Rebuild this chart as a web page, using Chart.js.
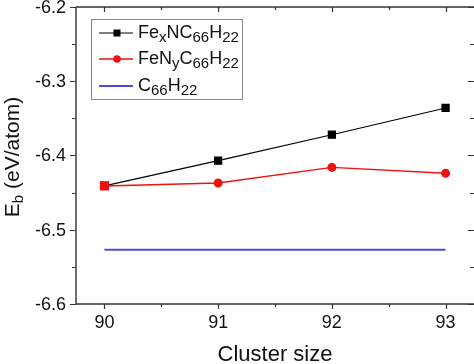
<!DOCTYPE html>
<html>
<head>
<meta charset="utf-8">
<script src="https://cdn.jsdelivr.net/npm/chart.js@4/dist/chart.umd.min.js"></script>
<style>
    html, body { margin: 0; padding: 0; background: #fff; }
    #wrap { width: 474px; height: 364px; position: relative; }
</style>
</head>
<body>
<div id="wrap"><canvas id="myChart"></canvas></div>
<script>
// cluster sizes on the x axis
let clusterSizes = [90, 91, 92, 93];
// binding energies (eV/atom)
let fexNC = [-6.441, -6.407, -6.372, -6.336];
let feNyC = [-6.441, -6.437, -6.416, -6.424];
let c66h22 = [-6.527, -6.527, -6.527, -6.527];

let xTicks = [90, 91, 92, 93];
let yTicks = [-6.6, -6.5, -6.4, -6.3, -6.2];

// legend entries: [text, subscript] pieces
let legendParts = [
    [["Fe", 0], ["x", 1], ["NC", 0], ["66", 1], ["H", 0], ["22", 1]],
    [["FeN", 0], ["y", 1], ["C", 0], ["66", 1], ["H", 0], ["22", 1]],
    [["C", 0], ["66", 1], ["H", 0], ["22", 1]]
];

const FONT = "'Liberation Sans', Arial, sans-serif";

function toPoints(vals) {
    return clusterSizes.map((x, i) => ({ x: x, y: vals[i] }));
}

function drawParts(ctx, parts, x, y, size, subSize) {
    for (let p of parts) {
        ctx.font = (p[1] ? subSize : size) + "px " + FONT;
        ctx.fillText(p[0], x, p[1] ? y + 5 : y);
        x += ctx.measureText(p[0]).width;
    }
}

const framePlugin = {
    id: 'frame',
    afterDraw(chart) {
        const ctx = chart.ctx;
        const a = chart.chartArea;
        const xs = chart.scales.x, ys = chart.scales.y;
        ctx.save();
        ctx.strokeStyle = '#333';
        ctx.lineWidth = 1.4;
        ctx.beginPath();
        ctx.moveTo(a.left, a.top); ctx.lineTo(a.right, a.top);
        ctx.moveTo(a.left, a.top); ctx.lineTo(a.left, a.bottom);
        ctx.moveTo(a.left, a.bottom); ctx.lineTo(a.right, a.bottom);
        ctx.stroke();

        ctx.lineWidth = 1.2;
        ctx.beginPath();
        // x ticks, majors and minors
        for (let v = 89.5; v <= 93.25; v += 0.5) {
            if (v < xs.min || v > xs.max) continue;
            let px = Math.round(xs.getPixelForValue(v)) + 0.5;
            let len = Number.isInteger(v) ? 5 : 3;
            ctx.moveTo(px, a.bottom); ctx.lineTo(px, a.bottom + len);
            ctx.moveTo(px, a.top); ctx.lineTo(px, a.top + len);
        }
        // y ticks
        for (let k = 0; k <= 8; k++) {
            let v = -6.6 + k * 0.05;
            let py = Math.round(ys.getPixelForValue(v)) + 0.5;
            let len = k % 2 === 0 ? 6 : 4;
            ctx.moveTo(a.left, py); ctx.lineTo(a.left - len, py);
            ctx.moveTo(a.right, py); ctx.lineTo(a.right - len, py);
        }
        ctx.stroke();

        // tick labels
        ctx.fillStyle = '#111';
        ctx.font = "18px " + FONT;
        ctx.textBaseline = 'middle';
        ctx.textAlign = 'center';
        for (let v of xTicks) {
            ctx.fillText(String(v), xs.getPixelForValue(v), 323);
        }
        ctx.textAlign = 'right';
        for (let v of yTicks) {
            ctx.fillText(v.toFixed(1), 66, ys.getPixelForValue(v) + 1);
        }

        // legend
        const lx = 91.5, ly = 19.5, lw = 151, lh = 80;
        ctx.fillStyle = '#fff';
        ctx.fillRect(lx, ly, lw, lh);
        ctx.strokeStyle = '#888';
        ctx.lineWidth = 1;
        ctx.strokeRect(lx, ly, lw, lh);
        const rows = [33, 59, 86];
        ctx.textAlign = 'left';
        chart.data.datasets.forEach((ds, i) => {
            let y = rows[i];
            ctx.strokeStyle = ds.borderColor;
            ctx.lineWidth = ds.borderWidth;
            ctx.beginPath();
            ctx.moveTo(99, y); ctx.lineTo(133, y);
            ctx.stroke();
            ctx.fillStyle = ds.borderColor;
            if (i === 0) {
                ctx.fillRect(113.5, y - 3.5, 7, 7);
            } else if (i === 1) {
                ctx.beginPath();
                ctx.arc(117, y, 3.8, 0, Math.PI * 2);
                ctx.fill();
            }
            ctx.fillStyle = '#111';
            ctx.textBaseline = 'middle';
            drawParts(ctx, legendParts[i], 138, y, 18, 15);
        });

        // axis titles
        ctx.fillStyle = '#111';
        ctx.textBaseline = 'middle';
        ctx.textAlign = 'center';
        ctx.font = "22px " + FONT;
        ctx.fillText("Cluster size", (a.left + a.right) / 2, 355);

        ctx.save();
        ctx.translate(13, 157);
        ctx.rotate(-Math.PI / 2);
        ctx.textAlign = 'left';
        let parts = [["E", 0], ["b", 1], [" (eV/atom)", 0]];
        let total = 0;
        for (let p of parts) {
            ctx.font = (p[1] ? 15 : 21) + "px " + FONT;
            total += ctx.measureText(p[0]).width;
        }
        let x = -total / 2;
        for (let p of parts) {
            ctx.font = (p[1] ? 15 : 21) + "px " + FONT;
            ctx.fillText(p[0], x, p[1] ? 6 : 0);
            x += ctx.measureText(p[0]).width;
        }
        ctx.restore();
        ctx.restore();
    }
};

window.addEventListener("DOMContentLoaded", () => {
    const ctx = document.getElementById('myChart');
    new Chart(ctx, {
        type: 'line',
        data: {
            datasets: [{
                label: 'FexNC66H22',
                data: toPoints(fexNC),
                borderColor: '#000000',
                backgroundColor: '#000000',
                borderWidth: 1.2,
                pointStyle: 'rect',
                pointRadius: 5,
                order: 2
            }, {
                label: 'FeNyC66H22',
                data: toPoints(feNyC),
                borderColor: '#f01010',
                backgroundColor: '#f01010',
                borderWidth: 1.4,
                pointStyle: (c) => c.dataIndex === 0 ? 'rect' : 'circle',
                pointRadius: (c) => c.dataIndex === 0 ? 5.5 : 3.8,
                order: 1
            }, {
                label: 'C66H22',
                data: toPoints(c66h22),
                borderColor: '#4b4bdc',
                borderWidth: 2,
                pointRadius: 0,
                order: 3
            }]
        },
        options: {
            responsive: true,
            maintainAspectRatio: false,
            animation: false,
            layout: { autoPadding: false, padding: { top: 7, right: 0, left: 0, bottom: 0 } },
            plugins: {
                legend: { display: false },
                tooltip: { enabled: false }
            },
            scales: {
                x: {
                    type: 'linear',
                    min: 89.75,
                    max: 93.25,
                    afterBuildTicks: (s) => { s.ticks = xTicks.map(v => ({ value: v })); },
                    afterFit: (s) => { s.height = 60; },
                    grid: { display: false },
                    border: { display: false },
                    ticks: { display: false }
                },
                y: {
                    min: -6.6,
                    max: -6.2,
                    afterBuildTicks: (s) => { s.ticks = yTicks.map(v => ({ value: v })); },
                    afterFit: (s) => { s.width = 76; },
                    grid: { display: false },
                    border: { display: false },
                    ticks: { display: false }
                }
            }
        },
        plugins: [framePlugin]
    });
});
</script>
</body>
</html>
